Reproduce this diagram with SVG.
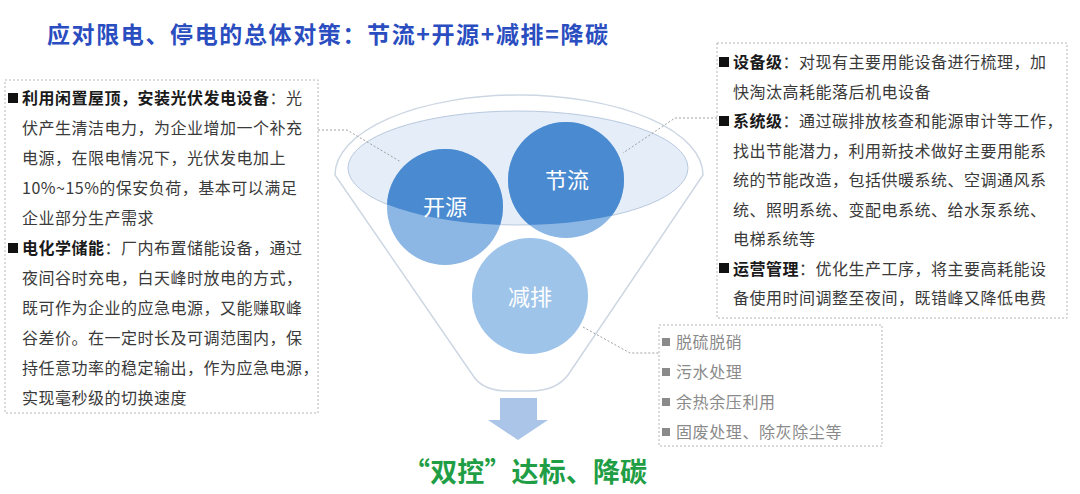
<svg xmlns="http://www.w3.org/2000/svg" width="1080" height="494" viewBox="0 0 1080 494">
<style>
text{font-family:"Noto Sans CJK SC","Noto Sans",sans-serif;}
.t{font-size:16px;fill:#3a3a3a;letter-spacing:0.5px;}
.b{font-weight:bold;fill:#1a1a1a;}
.g{font-size:16px;fill:#8a8a8a;letter-spacing:0.6px;}
.box{fill:#ffffff;stroke:#b5b5b5;stroke-width:1;stroke-dasharray:2 2;}
.conn{fill:none;stroke:#a0a0a0;stroke-width:1;stroke-dasharray:2 2;}
.ct{font-size:22px;fill:#ffffff;text-anchor:middle;}
</style>
<defs>
<clipPath id="ell"><ellipse cx="518" cy="168" rx="170" ry="57"/></clipPath>
</defs>
<rect width="1080" height="494" fill="#ffffff"/>
<text x="47" y="43" font-size="23" font-weight="bold" fill="#2a4dbf" textLength="561" lengthAdjust="spacing">应对限电、停电的总体对策：节流+开源+减排=降碳</text>

<g id="funnel">
<path d="M335,175 A184,80 0 0 1 703,175 L568,375 Q556,391 530,391 L508,391 Q484,391 474,377 Z" fill="#ffffff" stroke="#cdd7e3" stroke-width="1.5"/>
<ellipse cx="518" cy="168" rx="170" ry="57" fill="#e4edf8" stroke="#b9c9de" stroke-width="1"/>
</g>

<g id="connectors">
<path class="conn" d="M318,130 L347,130 L401,162"/>
<path class="conn" d="M717,118 L675,118 L623,153"/>
<path class="conn" d="M583,327 L630,353 L659,353"/>
</g>

<g id="node-kaiyuan">
<circle cx="445" cy="207" r="58" fill="#8cb6e3"/>
<circle cx="445" cy="207" r="58" fill="#4a8ad0" clip-path="url(#ell)"/>
<text class="ct" x="445" y="215">开源</text>
</g>
<g id="node-jieliu">
<circle cx="566" cy="180" r="58" fill="#8cb6e3"/>
<circle cx="566" cy="180" r="58" fill="#4a8ad0" clip-path="url(#ell)"/>
<text class="ct" x="567" y="188">节流</text>
</g>
<g id="node-jianpai">
<circle cx="530" cy="296" r="58" fill="#9ec4ea"/>
<text class="ct" x="530" y="305">减排</text>
</g>

<g id="arrow">
<path d="M500,398 L537,398 L537,420 L548,420 L518,440 L488,420 L500,420 Z" fill="#aac5e8"/>
</g>

<g id="result">
<text x="403" y="482" font-size="27" font-weight="bold" fill="#1f9e45" textLength="244" lengthAdjust="spacing">“双控”达标、降碳</text>
</g>

<g id="left-box">
<rect class="box" x="5" y="80" width="313" height="333"/>
<rect x="8" y="93" width="10" height="10" fill="#111"/>
<rect x="8" y="243" width="10" height="10" fill="#111"/>
<text class="t" x="22" y="104"><tspan class="b">利用闲置屋顶，安装光伏发电设备</tspan>：光</text>
<text class="t" x="22" y="134">伏产生清洁电力，为企业增加一个补充</text>
<text class="t" x="22" y="164">电源，在限电情况下，光伏发电加上</text>
<text class="t" x="22" y="194">10%~15%的保安负荷，基本可以满足</text>
<text class="t" x="22" y="224">企业部分生产需求</text>
<text class="t" x="22" y="254"><tspan class="b">电化学储能</tspan>：厂内布置储能设备，通过</text>
<text class="t" x="22" y="284">夜间谷时充电，白天峰时放电的方式，</text>
<text class="t" x="22" y="314">既可作为企业的应急电源，又能赚取峰</text>
<text class="t" x="22" y="344">谷差价。在一定时长及可调范围内，保</text>
<text class="t" x="22" y="374">持任意功率的稳定输出，作为应急电源，</text>
<text class="t" x="22" y="404">实现毫秒级的切换速度</text>
</g>

<g id="right-box">
<rect class="box" x="717" y="43" width="350" height="275"/>
<rect x="719" y="57" width="10" height="10" fill="#111"/>
<rect x="719" y="116" width="10" height="10" fill="#111"/>
<rect x="719" y="263" width="10" height="10" fill="#111"/>
<text class="t" x="733" y="68"><tspan class="b">设备级</tspan>：对现有主要用能设备进行梳理，加</text>
<text class="t" x="733" y="97.5">快淘汰高耗能落后机电设备</text>
<text class="t" x="733" y="127"><tspan class="b">系统级</tspan>：通过碳排放核查和能源审计等工作，</text>
<text class="t" x="733" y="156.5">找出节能潜力，利用新技术做好主要用能系</text>
<text class="t" x="733" y="186">统的节能改造，包括供暖系统、空调通风系</text>
<text class="t" x="733" y="215.5">统、照明系统、变配电系统、给水泵系统、</text>
<text class="t" x="733" y="245">电梯系统等</text>
<text class="t" x="733" y="274.5"><tspan class="b">运营管理</tspan>：优化生产工序，将主要高耗能设</text>
<text class="t" x="733" y="304">备使用时间调整至夜间，既错峰又降低电费</text>
</g>

<g id="bottom-box">
<rect class="box" x="659" y="325" width="223" height="121"/>
<rect x="662" y="338" width="8" height="8" fill="#8a8a8a"/>
<rect x="662" y="368" width="8" height="8" fill="#8a8a8a"/>
<rect x="662" y="398" width="8" height="8" fill="#8a8a8a"/>
<rect x="662" y="428" width="8" height="8" fill="#8a8a8a"/>
<text class="g" x="676" y="348">脱硫脱硝</text>
<text class="g" x="676" y="378">污水处理</text>
<text class="g" x="676" y="408">余热余压利用</text>
<text class="g" x="676" y="438">固废处理、除灰除尘等</text>
</g>
</svg>
